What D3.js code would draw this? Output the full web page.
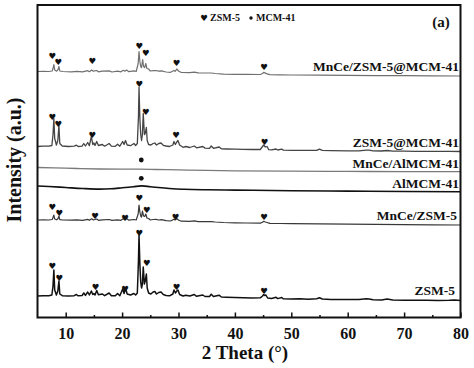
<!DOCTYPE html>
<html><head><meta charset="utf-8">
<script src="https://cdn.jsdelivr.net/npm/d3@7"></script>
<style>body{margin:0;background:#fff}svg{display:block}text{font-family:"Liberation Serif","Times New Roman",serif;font-weight:bold}</style>
</head><body>
<svg id="c" width="474" height="368"></svg>
<script>
const seriesNames = ["MnCe/ZSM-5@MCM-41","ZSM-5@MCM-41","MnCe/AlMCM-41","AlMCM-41","MnCe/ZSM-5","ZSM-5"];
const offsets = [246, 171, 150, 131, 97.5, 21.5];
const xTicks = [10,20,30,40,50,60,70,80];
const xMinor = [15,25,35,45,55,65,75];

const s1 = [[5,0],[6,0.2],[7,0],[7.6,0.5],[7.75,3],[7.9,7],[8.05,1.5],[8.4,0.3],[8.65,2],[8.8,5],[8.95,0.5],[9.5,0],[11,-0.3],[12,0.2],[13,-0.3],[13.9,0.8],[14.2,-0.2],[14.6,1.5],[14.9,0.3],[15.5,1],[15.8,-0.3],[16.5,0.3],[17.7,0.6],[18.2,-0.5],[19.2,0.3],[19.8,-0.3],[20.2,1.2],[20.5,0.3],[20.8,1.5],[21.2,-0.2],[22.1,0.6],[22.5,0],[22.85,8],[23.0,20],[23.15,10],[23.3,5],[23.45,4],[23.65,12],[23.8,5],[24.0,4],[24.2,8],[24.4,3],[24.7,2.5],[25.0,0.5],[25.5,0.8],[26.0,1],[26.5,0.3],[27,0.6],[27.8,-0.5],[28.6,-0.8],[29.2,1],[29.4,0.2],[29.7,2.5],[30.0,0.5],[30.5,-1],[32,-1.2],[32.8,-0.6],[33.5,-1.4],[35.8,-1.5],[36.5,-2],[38,-2.6],[40,-2.8],[42,-2.9],[44.5,-3],[44.9,-2],[45.1,-0.8],[45.4,-1.6],[45.7,-2.4],[46.2,-3.2],[48,-3.3],[50,-3.5],[55,-3.7],[60,-3.9],[65,-4.1],[70,-4.2],[75,-4.3],[80,-4.5]];

const s2 = [[5,0],[6,0.3],[7,0.3],[7.55,1],[7.75,12],[7.9,28],[8.05,8],[8.35,1.5],[8.6,6],[8.8,21],[8.95,3],[9.4,0.5],[10.5,0],[11.5,0.3],[11.9,1.3],[12.2,0],[12.9,0.3],[13.2,3],[13.5,0.5],[13.9,4],[14.2,0.8],[14.55,10],[14.8,2],[15.0,3.5],[15.2,1],[15.5,5],[15.8,1],[16.5,2],[16.9,0.3],[17.7,3],[18.1,0.3],[18.8,0.2],[19.2,2.2],[19.6,0.3],[20.1,5],[20.35,2],[20.6,6],[20.9,1.5],[21.5,0.8],[22.1,3],[22.4,1],[22.7,3],[22.9,30],[23.0,59],[23.15,28],[23.3,12],[23.45,6],[23.6,12],[23.75,33],[23.95,12],[24.1,13],[24.3,19],[24.45,6],[24.7,2],[25.1,1.5],[25.5,3],[25.8,3.5],[26.1,1.5],[26.5,3],[26.9,3.5],[27.3,1.2],[27.8,0.5],[28.4,0],[29.0,1.5],[29.2,5],[29.45,2],[29.7,4.5],[29.9,6],[30.2,1.5],[30.8,-0.8],[31.3,0],[32.0,-1],[32.8,0.5],[33.2,-1.3],[34.3,0],[34.7,-1.6],[35.5,-1.8],[35.8,0.5],[36.2,-1.8],[37.2,-0.5],[37.6,-2.3],[38.5,-2.5],[40,-2.7],[41.5,-2.8],[43,-3],[44.5,-3],[44.9,0],[45.1,1.5],[45.4,-0.5],[45.7,0],[46,-3.2],[46.5,-3.4],[47.3,-2.5],[47.6,-3.5],[48.3,-2.6],[48.6,-3.6],[50,-3.8],[51.5,-3.8],[53,-3.9],[54.5,-3.8],[55,-2.6],[55.5,-3.9],[57,-4.1],[60,-4.3],[62,-4.3],[63.3,-3.6],[63.8,-3.6],[64.5,-4.4],[66,-4.5],[67,-4],[68,-4.6],[70,-4.7],[72,-4.8],[74,-4.8],[76,-4.9],[78,-4.9],[80,-5]];

const s3 = [[5,0],[8,-0.4],[12,-1],[16,-1.5],[20,-1.7],[23,-1.7],[26,-2],[30,-2.4],[35,-2.9],[40,-3.3],[50,-3.7],[60,-3.9],[70,-4.1],[80,-4.2]];

const s4 = [[5,0.5],[7,0],[10,-1],[13,-2],[16,-2.6],[18,-2.3],[20,-1.3],[22,-0.2],[23.5,0.6],[25,-0.2],[27,-1.3],[29,-2.3],[31,-2.8],[35,-3.3],[40,-3.6],[50,-4.2],[60,-4.6],[70,-5],[80,-5.3]];

const s5 = [[5,0],[6,0.2],[7,0],[7.6,0.5],[7.75,2.5],[7.9,5],[8.05,1],[8.4,0.2],[8.65,1.5],[8.8,4],[8.95,0.3],[9.5,0],[11,-0.2],[12,0.2],[13,-0.3],[13.9,0.6],[14.2,-0.3],[14.6,1.2],[14.9,0],[15.5,1],[15.8,-0.3],[16.5,0.2],[17.7,0.5],[18.2,-0.4],[19.2,0.2],[19.8,-0.3],[20.2,1.2],[20.5,0.3],[20.8,1.5],[21.2,-0.2],[22.1,0.5],[22.5,0],[22.85,6],[23.0,15],[23.15,8],[23.3,4],[23.45,3],[23.6,9],[23.8,4],[24.0,3.5],[24.2,6],[24.4,2],[24.7,1.5],[25.0,0],[25.5,0.5],[26.0,0.7],[26.5,0],[27,0.3],[27.8,-0.7],[28.6,-1],[29.2,0.8],[29.4,0],[29.7,1.5],[30.0,0],[30.5,-1.2],[32,-1.4],[32.8,-0.8],[33.5,-1.6],[35.8,-1.6],[36.5,-2],[38,-2.5],[40,-2.8],[42,-3],[44.5,-3.1],[44.9,-2.2],[45.1,-1.3],[45.4,-2],[45.7,-2.5],[46.2,-3.4],[48,-3.5],[50,-3.7],[55,-3.9],[60,-4.2],[65,-4.4],[70,-4.6],[75,-4.8],[80,-5]];

const s6 = [[5,0],[6,0.3],[7,0.2],[7.55,1],[7.75,10],[7.9,26],[8.05,6],[8.35,1],[8.6,5],[8.8,15],[8.95,2],[9.4,0.3],[10.5,0],[11.5,0.3],[11.9,1.5],[12.2,0.2],[12.9,0.4],[13.2,3],[13.5,0.6],[13.9,4],[14.2,1],[14.55,5],[14.8,1.5],[15.0,2.5],[15.2,1],[15.5,5.5],[15.8,1.2],[16.5,2],[16.9,0.3],[17.7,3],[18.1,0.3],[18.8,0.2],[19.2,2.5],[19.6,0.3],[20.1,7],[20.35,2.5],[20.6,8],[20.9,2],[21.5,1],[22.1,2.5],[22.4,1],[22.7,3],[22.9,35],[23.0,61],[23.15,32],[23.3,14],[23.45,8],[23.6,12],[23.75,29],[23.95,12],[24.1,15],[24.3,22],[24.45,8],[24.7,3],[25.1,2],[25.5,4],[25.8,4.5],[26.1,2],[26.5,3.5],[26.9,4],[27.3,1.5],[27.8,0.5],[28.4,0.2],[29.0,2],[29.2,6],[29.45,3],[29.7,5],[29.9,6],[30.2,1.5],[30.8,0],[31.3,0.8],[32.0,0],[32.8,1.5],[33.2,-0.3],[34.3,1],[34.7,-0.5],[35.5,-0.5],[35.8,1.8],[36.2,-0.6],[37.2,0.8],[37.6,-1],[38.5,-1.2],[40,-1.5],[41.5,-1.8],[43,-2],[44.5,-1.8],[44.9,0],[45.1,1.5],[45.3,0.5],[45.5,1],[45.8,-2],[46.5,-2.4],[47.3,-1.3],[47.6,-2.6],[48.3,-1.5],[48.6,-2.8],[50,-3],[51.5,-2.7],[53,-3.2],[54.5,-2.7],[55,-1.8],[55.5,-3],[57,-3.4],[60,-3.6],[62,-3.6],[63.3,-2.8],[63.8,-2.9],[64.5,-3.8],[66,-3.9],[67,-3.1],[68,-4],[70,-4.2],[72,-4.3],[74,-4.2],[76,-4.5],[78,-4.3],[79,-4],[80,-4.5]];

const hearts1 = [[7.63,15.8],[8.7,9.8],[14.73,10.5],[23.07,25.5],[24.2,18.8],[29.64,8.2],[45.15,4.8]];
const hearts2 = [[7.63,29.8],[8.7,22.5],[14.73,11.5],[23.07,62.5],[24.2,34.8],[29.55,11.5],[45.25,4.8]];
const dots3 = [[23.4,7.5]];
const dots4 = [[23.4,8.2]];
const hearts5 = [[7.63,12.7],[8.87,6.7],[15.2,4.3],[20.53,2.3],[23.07,21.7],[24.38,10],[29.5,2.7],[45.15,3.3]];
const hearts6 = [[7.63,30],[8.87,17.7],[15.3,8.7],[20.53,6.7],[23.07,63.3],[24.38,33.3],[29.64,9.3],[45.15,5.3]];

const seriesData = [s1,s2,s3,s4,s5,s6];
const heartSets = [hearts1,hearts2,[],[],hearts5,hearts6];
const dotSets = [[],[],dots3,dots4,[],[]];
const colors = ["#707070","#454545","#7a7a7a","#111111","#383838","#111111"];
const widths = [1.2,1.3,1.3,1.6,1.2,1.5];
const labelX = [459,459,459,459,457,455];
const labelRel = [0.2,-0.5,-0.5,-1.5,0,1];
const smooth = [false,false,true,true,false,false];

const svg = d3.select("#c");
const L=37.5, R=460.5, T=5, B=317.5;
const x = d3.scaleLinear().domain([5,80]).range([L,R]);
const y = d3.scaleLinear().domain([0,312.5]).range([B,T]);

seriesData.forEach((d,i)=>{
  const line = d3.line().x(p=>x(p[0])).y(p=>y(offsets[i]+p[1])).curve(smooth[i]?d3.curveMonotoneX:d3.curveLinear);
  svg.append("path").attr("d",line(d)).attr("fill","none").attr("stroke",colors[i]).attr("stroke-width",widths[i]).attr("stroke-linejoin","round");
  svg.selectAll(null).data(heartSets[i]).enter().append("text")
    .attr("x",p=>x(p[0])).attr("y",p=>y(offsets[i]+p[1])).attr("text-anchor","middle").attr("dominant-baseline","central")
    .style("font-family","'DejaVu Sans',sans-serif").style("font-size","8.5px").attr("fill","#111").text("\u2665");
  svg.selectAll(null).data(dotSets[i]).enter().append("circle")
    .attr("cx",p=>x(p[0])).attr("cy",p=>y(offsets[i]+p[1])).attr("r",2.4).attr("fill","#111");
  svg.append("text").attr("x",labelX[i]).attr("y",y(offsets[i]+labelRel[i])).attr("text-anchor","end")
    .style("font-size","13.5px").attr("fill","#111").text(seriesNames[i]);
});

// frame
svg.append("rect").attr("x",L).attr("y",T).attr("width",R-L).attr("height",B-T).attr("fill","none").attr("stroke","#111").attr("stroke-width",2);

// bottom axis ticks (inward)
const ax = svg.append("g").attr("transform",`translate(0,${B})`)
  .call(d3.axisBottom(x).tickValues(xTicks).tickSize(-5).tickPadding(10).tickFormat(d3.format("d")));
ax.select(".domain").remove();
ax.selectAll("line").attr("stroke","#111").attr("stroke-width",1.5);
ax.selectAll("text").style("font-size","16px").style("font-family","'Liberation Serif',serif").style("font-weight","bold").attr("fill","#111");
svg.append("g").attr("transform",`translate(0,${B})`)
  .call(d3.axisBottom(x).tickValues(xMinor).tickSize(-2.5).tickFormat(""))
  .call(g=>{g.select(".domain").remove();g.selectAll("line").attr("stroke","#111").attr("stroke-width",1.5);});

svg.append("text").attr("x",245).attr("y",359).attr("text-anchor","middle").style("font-size","19px").attr("fill","#111").text("2 Theta (\u00b0)");
svg.append("text").attr("transform","translate(21,160) rotate(-90)").attr("text-anchor","middle").style("font-size","20px").attr("fill","#111").text("Intensity (a.u.)");

// legend
const lg = svg.append("g");
lg.append("text").attr("x",204).attr("y",18).attr("text-anchor","middle").attr("dominant-baseline","central").style("font-family","'DejaVu Sans',sans-serif").style("font-size","8.5px").attr("fill","#111").text("\u2665");
lg.append("text").attr("x",210).attr("y",21).style("font-size","10px").attr("fill","#111").text("ZSM-5");
lg.append("circle").attr("cx",251).attr("cy",18).attr("r",1.7).attr("fill","#111");
lg.append("text").attr("x",256).attr("y",21).style("font-size","10px").attr("fill","#111").text("MCM-41");
svg.append("text").attr("x",441).attr("y",27).attr("text-anchor","middle").style("font-size","15px").attr("fill","#111").text("(a)");
</script>
</body></html>
